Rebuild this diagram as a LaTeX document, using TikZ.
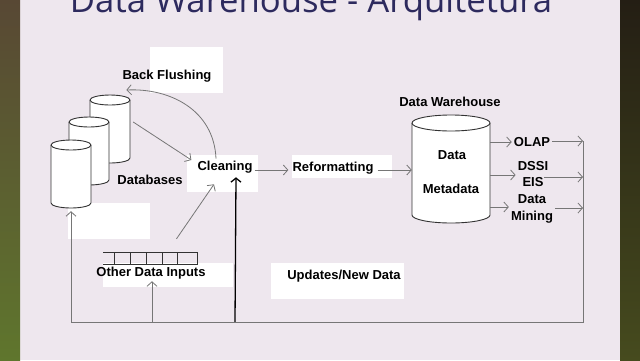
\documentclass[tikz,border=0pt]{standalone}
\usepackage{fontspec}
\usepackage{graphicx}
\setmainfont{Liberation Sans}
\newfontfamily\titlefont{Open Sans}
\usetikzlibrary{arrows.meta,calc}
\definecolor{bgc}{HTML}{EEE7EE}
\definecolor{titlec}{HTML}{2D2A5E}
\definecolor{arrowgray}{HTML}{767676}
\definecolor{cylline}{HTML}{333333}
\begin{document}
\begin{tikzpicture}[x=1pt,y=-1pt,
  lbl/.style={font=\bfseries\fontsize{13}{16.5}\selectfont, inner sep=0pt, align=center},
  wbox/.style={fill=white},
  garrow/.style={draw=arrowgray, line width=0.8pt, -{Straight Barb[length=4.5pt,width=10pt]}},
  gline/.style={draw=arrowgray, line width=0.8pt},
  barrow/.style={draw=black, line width=1.3pt, -{Straight Barb[length=4pt,width=10pt]}},
  cylst/.style={draw=cylline, fill=white, line width=0.9pt},
  qline/.style={draw=cylline, line width=0.9pt}]
\useasboundingbox (0,0) rectangle (640,360);
\clip (0,0) rectangle (640,360);
% background
\fill[bgc] (0,0) rectangle (640,360);
\shade[bottom color={rgb,255:red,95;green,118;blue,45}, middle color={rgb,255:red,52;green,70;blue,50}, top color={rgb,255:red,88;green,72;blue,52}] (0,0) rectangle (20,360);
\shade[bottom color={rgb,255:red,70;green,75;blue,30}, middle color={rgb,255:red,30;green,26;blue,14}, top color={rgb,255:red,36;green,30;blue,20}] (620,0) rectangle (640,360);
% title
\node[anchor=base, text=titlec, inner sep=0pt] (title) at (311,12) {\resizebox{482pt}{!}{\titlefont Data Warehouse - Arquitetura}};
% white boxes
\fill[wbox] (150,47) rectangle (223,93);
\fill[wbox] (187,155) rectangle (258,192);
\fill[wbox] (292,155) rectangle (392,178);
\fill[wbox] (68,203) rectangle (150,239);
\fill[wbox] (103,263) rectangle (233,287);
\fill[wbox] (271,263) rectangle (404,299);
% database cylinders (back to front)
\filldraw[cylst] (90,100) -- (90,158) arc[start angle=180,end angle=0,x radius=20,y radius=5] -- (130,100) arc[start angle=0,end angle=-180,x radius=20,y radius=5] -- cycle;
\draw[cylst, fill=none] (90,100) arc[start angle=180,end angle=0,x radius=20,y radius=5];
\filldraw[cylst] (69,122) -- (69,180) arc[start angle=180,end angle=0,x radius=20,y radius=5] -- (109,122) arc[start angle=0,end angle=-180,x radius=20,y radius=5] -- cycle;
\draw[cylst, fill=none] (69,122) arc[start angle=180,end angle=0,x radius=20,y radius=5];
\filldraw[cylst] (51,145) -- (51,203) arc[start angle=180,end angle=0,x radius=20,y radius=5] -- (91,145) arc[start angle=0,end angle=-180,x radius=20,y radius=5] -- cycle;
\draw[cylst, fill=none] (51,145) arc[start angle=180,end angle=0,x radius=20,y radius=5];
\node[inner sep=0pt, minimum width=40pt, minimum height=68pt] (db3) at (110,129) {};
\node[inner sep=0pt, minimum width=40pt, minimum height=68pt] (db1) at (71,174) {};
% data warehouse cylinder
\filldraw[cylst] (412,123) -- (412,215) arc[start angle=180,end angle=0,x radius=39,y radius=8] -- (490,123) arc[start angle=0,end angle=-180,x radius=39,y radius=8] -- cycle;
\draw[cylst, fill=none] (412,123) arc[start angle=180,end angle=0,x radius=39,y radius=8];
\node[inner sep=0pt, minimum width=78pt, minimum height=108pt] (dw) at (451,169) {};
% queue symbol
\draw[qline] (103,252) -- (198,252);
\draw[qline] (103,264) -- (198,264);
\foreach \qx in {114,130,146,162,177,197} \draw[qline] (\qx,252) -- (\qx,264);
\node[inner sep=0pt, minimum width=95pt, minimum height=12pt] (queue) at (150.5,258) {};
% labels
\node[lbl] (bf) at (167,76) {Back Flushing};
\node[lbl] (dbs) at (150,180) {Databases};
\node[lbl] (cln) at (225,167) {Cleaning};
\node[lbl] (ref) at (333,168) {Reformatting};
\node[lbl] (dwl) at (450,102) {Data Warehouse};
\node[lbl] (dwd) at (452,155) {Data};
\node[lbl] (dwm) at (451,189) {Metadata};
\node[lbl] (olap) at (532,142) {OLAP};
\node[lbl] (dssi) at (533,174) {DSSI\\EIS};
\node[lbl] (dm) at (532,209) {Data\\Mining};
\node[lbl] (odi) at (151,273) {Other Data Inputs};
\node[lbl] (und) at (344,276) {Updates/New Data};
% loop corners
\coordinate (loopR) at (583,322);
\coordinate (loopL) at (71,322);
\coordinate (loopM) at (152,322);
\coordinate (loopB) at (235,322);
% connectors
\draw[garrow] ([shift={(3,-7)}]db3.east) -- ([shift={(-6,-7)}]cln.west);
\draw[garrow] ([shift={(-9,-2)}]cln.north) .. controls (214,110) and (170,88) .. ([shift={(4,14)}]bf.west);
\draw[garrow] ([shift={(26,-13)}]queue.north) -- ([shift={(-11,11)}]cln.south);
\draw[barrow] (loopB) -- ([shift={(11,4)}]cln.south);
\draw[garrow] ([shift={(2,3)}]cln.east) -- ([shift={(-4,2)}]ref.west);
\draw[garrow] ([shift={(4,2)}]ref.east) -- (dw.west |- 0,170);
\draw[garrow] (dw.east |- 0,142) -- ([shift={(-2,0)}]olap.west);
\draw[garrow] (dw.east |- 0,175) -- ([shift={(-2,1)}]dssi.west);
\draw[garrow] (dw.east |- 0,207) -- ([shift={(-2,-2)}]dm.west);
\draw[garrow] ([shift={(2,-1)}]olap.east) -- (loopR |- 0,141);
\draw[garrow] ([shift={(-4,3)}]dssi.east) -- (loopR |- 0,177);
\draw[garrow] ([shift={(2,-1)}]dm.east) -- (loopR |- 0,208);
\draw[gline] (loopR |- 0,141) -- (loopR) -- (loopL);
\draw[garrow] (loopL) -- ([shift={(0,3)}]db1.south);
\draw[garrow] (loopM) -- ([shift={(1,2)}]odi.south);
\end{tikzpicture}
\end{document}
